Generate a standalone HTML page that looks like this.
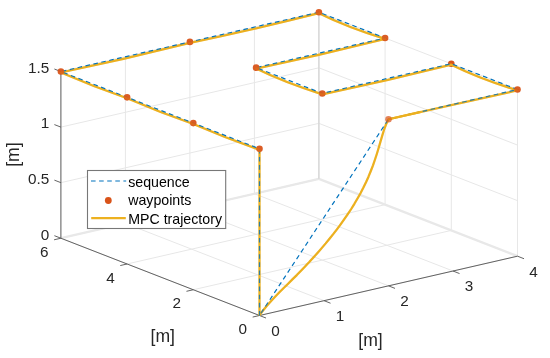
<!DOCTYPE html>
<html><head><meta charset="utf-8"><title>MPC trajectory</title>
<style>
html,body{margin:0;padding:0;background:#fff;}
svg{display:block;font-family:"Liberation Sans",sans-serif;}
.g{stroke:#e7e7e7;stroke-width:1;}
.g2{stroke:#e8e8e8;stroke-width:2.3;}
.g3{stroke:#d2d2d2;stroke-width:1;}
.a{stroke:#565656;stroke-width:0.92;}
.t{font-size:15.3px;fill:#262626;}
.l{font-size:17.6px;fill:#262626;}
.lg{font-size:14.2px;fill:#000;}
.s{fill:none;stroke:#0072BD;stroke-width:1.2;stroke-dasharray:4.6 3.5;}
.m{fill:none;stroke:#EDB120;stroke-width:2.2;stroke-linejoin:round;}
.w{fill:#D95319;}
</style></head><body>
<svg width="550" height="358" viewBox="0 0 550 358">
<rect width="550" height="358" fill="#fff"/>
<line x1="259.50" y1="315.50" x2="60.90" y2="238.22" class="g"/>
<line x1="60.90" y1="238.22" x2="60.90" y2="71.57" class="g"/>
<line x1="324.00" y1="300.67" x2="125.40" y2="223.39" class="g"/>
<line x1="125.40" y1="223.39" x2="125.40" y2="56.74" class="g"/>
<line x1="388.50" y1="285.84" x2="189.90" y2="208.56" class="g"/>
<line x1="189.90" y1="208.56" x2="189.90" y2="41.91" class="g"/>
<line x1="453.00" y1="271.01" x2="254.40" y2="193.73" class="g"/>
<line x1="254.40" y1="193.73" x2="254.40" y2="27.08" class="g"/>
<line x1="517.50" y1="256.18" x2="318.90" y2="178.90" class="g"/>
<line x1="318.90" y1="178.90" x2="318.90" y2="12.25" class="g"/>
<line x1="259.50" y1="315.50" x2="517.50" y2="256.18" class="g"/>
<line x1="517.50" y1="256.18" x2="517.50" y2="89.53" class="g"/>
<line x1="193.30" y1="289.74" x2="451.30" y2="230.42" class="g"/>
<line x1="451.30" y1="230.42" x2="451.30" y2="63.77" class="g"/>
<line x1="127.10" y1="263.98" x2="385.10" y2="204.66" class="g"/>
<line x1="385.10" y1="204.66" x2="385.10" y2="38.01" class="g"/>
<line x1="60.90" y1="238.22" x2="318.90" y2="178.90" class="g"/>
<line x1="318.90" y1="178.90" x2="318.90" y2="12.25" class="g"/>
<line x1="60.90" y1="238.22" x2="318.90" y2="178.90" class="g"/>
<line x1="318.90" y1="178.90" x2="517.50" y2="256.18" class="g"/>
<line x1="60.90" y1="182.67" x2="318.90" y2="123.35" class="g"/>
<line x1="318.90" y1="123.35" x2="517.50" y2="200.63" class="g"/>
<line x1="60.90" y1="127.12" x2="318.90" y2="67.80" class="g"/>
<line x1="318.90" y1="67.80" x2="517.50" y2="145.08" class="g"/>
<line x1="60.90" y1="71.57" x2="318.90" y2="12.25" class="g"/>
<line x1="318.90" y1="12.25" x2="517.50" y2="89.53" class="g"/>
<line x1="60.90" y1="238.22" x2="318.90" y2="178.90" class="g2"/>
<line x1="318.90" y1="178.90" x2="517.50" y2="256.18" class="g2"/>
<line x1="318.90" y1="178.90" x2="318.90" y2="12.25" class="g3"/>
<line x1="259.50" y1="315.50" x2="517.50" y2="256.18" class="a"/>
<line x1="259.50" y1="315.50" x2="60.90" y2="238.22" class="a"/>
<line x1="60.90" y1="238.22" x2="60.90" y2="71.57" class="a"/>
<line x1="259.50" y1="315.50" x2="266.02" y2="318.04" class="a"/>
<line x1="324.00" y1="300.67" x2="330.52" y2="303.21" class="a"/>
<line x1="388.50" y1="285.84" x2="395.02" y2="288.38" class="a"/>
<line x1="453.00" y1="271.01" x2="459.52" y2="273.55" class="a"/>
<line x1="517.50" y1="256.18" x2="524.02" y2="258.72" class="a"/>
<line x1="259.50" y1="315.50" x2="252.68" y2="317.07" class="a"/>
<line x1="193.30" y1="289.74" x2="186.48" y2="291.31" class="a"/>
<line x1="127.10" y1="263.98" x2="120.28" y2="265.55" class="a"/>
<line x1="60.90" y1="238.22" x2="54.08" y2="239.79" class="a"/>
<line x1="60.90" y1="238.22" x2="54.38" y2="235.68" class="a"/>
<line x1="60.90" y1="182.67" x2="54.38" y2="180.13" class="a"/>
<line x1="60.90" y1="127.12" x2="54.38" y2="124.58" class="a"/>
<line x1="60.90" y1="71.57" x2="54.38" y2="69.03" class="a"/>
<circle cx="451.30" cy="63.77" r="3.3" class="w"/>
<path d="M259.50,315.50 L259.50,149.75 Q226.40,138.27 193.30,123.99 Q160.20,112.51 127.10,98.23 Q94.00,86.75 60.90,72.47 Q125.40,59.04 189.90,42.81 Q254.40,29.38 318.90,13.15 Q346.70,26.87 385.10,38.91 Q320.60,55.14 256.10,68.57 Q283.90,82.29 322.30,94.33 Q386.80,80.90 451.30,64.67 Q479.10,78.39 517.50,90.43 Q453.00,104.51 388.50,119.29 L386.00,124.50 L383.90,130.20 L382.10,136.10 L380.40,141.90 L378.70,147.80 L376.90,153.70 L375.00,159.50 L373.00,165.30 L370.80,171.00 L368.50,176.70 L366.00,182.20 L363.30,187.80 L360.50,193.20 L357.50,198.50 L354.40,203.80 L351.20,209.00 L347.80,214.10 L344.30,219.20 L340.80,224.10 L337.10,229.10 L333.40,233.90 L329.50,238.70 L325.70,243.40 L321.70,248.10 L317.70,252.70 L313.60,257.30 L309.50,261.80 L305.30,266.20 L301.00,270.70 L296.80,275.10 L292.40,279.40 L288.10,283.70 L283.70,288.00 L279.40,292.30 L275.10,296.70 L270.90,301.20 L266.90,305.80 L263.00,310.50 L259.40,315.40" class="m"/>
<path d="M259.50,315.50 L259.50,148.85 L193.30,123.09 L127.10,97.33 L60.90,71.57 L189.90,41.91 L318.90,12.25 L385.10,38.01 L256.10,67.67 L322.30,93.43 L451.30,63.77 L517.50,89.53 L388.50,119.19 L259.50,315.50" class="s"/>
<line x1="388.50" y1="119.29" x2="420.75" y2="111.93" class="m"/><circle cx="259.50" cy="148.85" r="3.3" class="w" opacity="0.95"/><circle cx="193.30" cy="123.09" r="3.3" class="w" opacity="0.95"/><circle cx="127.10" cy="97.33" r="3.3" class="w" opacity="0.95"/><circle cx="60.90" cy="71.57" r="3.3" class="w" opacity="0.95"/><circle cx="189.90" cy="41.91" r="3.3" class="w" opacity="0.95"/><circle cx="318.90" cy="12.25" r="3.3" class="w" opacity="0.95"/><circle cx="385.10" cy="38.01" r="3.3" class="w" opacity="0.95"/><circle cx="256.10" cy="67.67" r="3.3" class="w" opacity="0.95"/><circle cx="322.30" cy="93.43" r="3.3" class="w" opacity="0.95"/><circle cx="517.50" cy="89.53" r="3.3" class="w" opacity="0.95"/><circle cx="388.50" cy="119.19" r="3.3" class="w" opacity="0.72"/><path d="M259.50,315.50 L259.50,149.75 Q226.40,138.27 193.30,123.99 Q160.20,112.51 127.10,98.23 Q94.00,86.75 60.90,72.47 Q125.40,59.04 189.90,42.81 Q254.40,29.38 318.90,13.15 Q346.70,26.87 385.10,38.91 Q320.60,55.14 256.10,68.57 Q283.90,82.29 322.30,94.33 Q386.80,80.90 451.30,64.67 Q479.10,78.39 517.50,90.43 Q453.00,104.51 388.50,119.29 L386.00,124.50 L383.90,130.20 L382.10,136.10 L380.40,141.90 L378.70,147.80 L376.90,153.70 L375.00,159.50 L373.00,165.30 L370.80,171.00 L368.50,176.70 L366.00,182.20 L363.30,187.80 L360.50,193.20 L357.50,198.50 L354.40,203.80 L351.20,209.00 L347.80,214.10 L344.30,219.20 L340.80,224.10 L337.10,229.10 L333.40,233.90 L329.50,238.70 L325.70,243.40 L321.70,248.10 L317.70,252.70 L313.60,257.30 L309.50,261.80 L305.30,266.20 L301.00,270.70 L296.80,275.10 L292.40,279.40 L288.10,283.70 L283.70,288.00 L279.40,292.30 L275.10,296.70 L270.90,301.20 L266.90,305.80 L263.00,310.50 L259.40,315.40" class="m" opacity="0.2"/>
<text x="275.52" y="335.94" class="t" text-anchor="middle">0</text>
<text x="340.02" y="321.11" class="t" text-anchor="middle">1</text>
<text x="404.52" y="306.28" class="t" text-anchor="middle">2</text>
<text x="469.02" y="291.45" class="t" text-anchor="middle">3</text>
<text x="533.52" y="276.62" class="t" text-anchor="middle">4</text>
<text x="242.88" y="334.17" class="t" text-anchor="middle">0</text>
<text x="176.68" y="308.41" class="t" text-anchor="middle">2</text>
<text x="110.48" y="282.65" class="t" text-anchor="middle">4</text>
<text x="44.28" y="256.89" class="t" text-anchor="middle">6</text>
<text x="49.30" y="239.58" class="t" text-anchor="end">0</text>
<text x="49.30" y="184.03" class="t" text-anchor="end">0.5</text>
<text x="49.30" y="128.48" class="t" text-anchor="end">1</text>
<text x="49.30" y="72.93" class="t" text-anchor="end">1.5</text>
<text x="162.8" y="341.5" class="l" text-anchor="middle">[m]</text>
<text x="370.5" y="346" class="l" text-anchor="middle">[m]</text>
<text transform="translate(19.4,154.6) rotate(-90)" class="l" text-anchor="middle">[m]</text>
<g>
<rect x="87.5" y="170.5" width="138.2" height="58" fill="#fff" stroke="#777" stroke-width="1.1"/>
<line x1="91" y1="181" x2="126.2" y2="181" class="s"/>
<circle cx="108.3" cy="200.5" r="3.4" class="w"/>
<line x1="91.2" y1="218.1" x2="125.8" y2="218.1" class="m"/>
<text x="128.2" y="186.8" class="lg">sequence</text>
<text x="128.2" y="205.4" class="lg">waypoints</text>
<text x="128.2" y="224.1" class="lg">MPC trajectory</text>
</g>
</svg>
</body></html>
